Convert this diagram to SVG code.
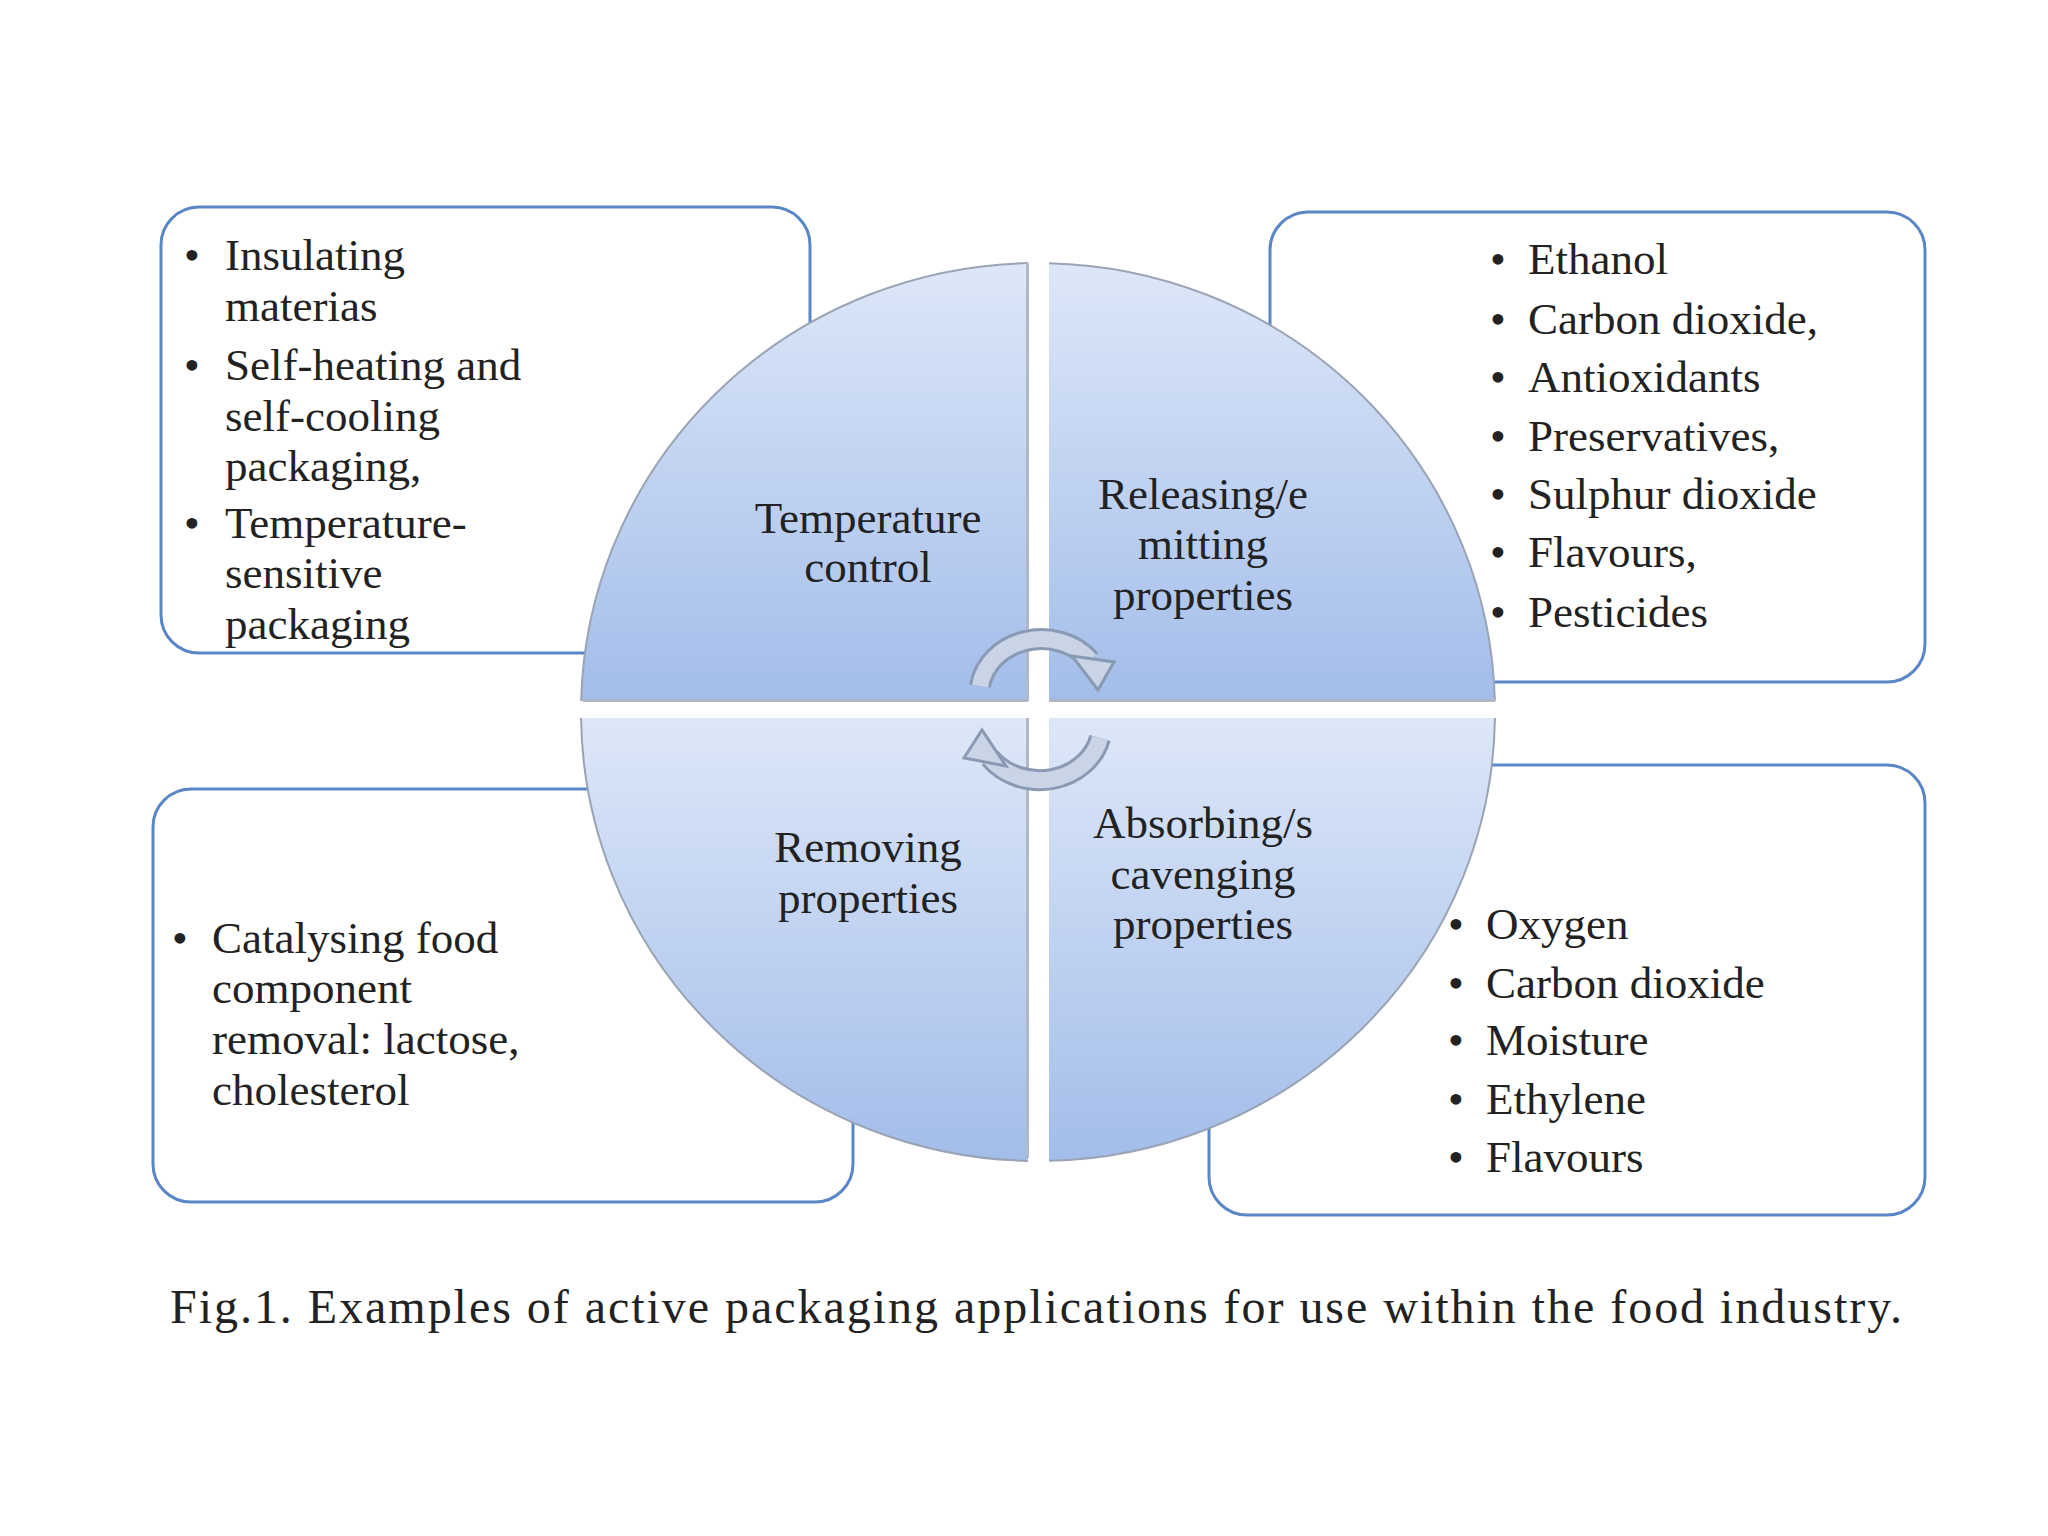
<svg xmlns="http://www.w3.org/2000/svg" width="2048" height="1536" viewBox="0 0 2048 1536">
<style>
.box{fill:#fff;stroke:#5b86c5;stroke-width:3}
.t{font-family:"Liberation Serif",serif;font-size:45px;fill:#222}
.c{text-anchor:middle}
.q{stroke:#9aa4b4;stroke-width:2}
.arc{fill:none;stroke:#c9d4e6;stroke-width:16}
.arco{fill:none;stroke:#8a9ab4;stroke-width:22}
</style>
<defs>
<linearGradient id="gt" gradientUnits="userSpaceOnUse" x1="0" y1="263" x2="0" y2="701"><stop offset="0" stop-color="#dde7f8"/><stop offset="1" stop-color="#a3bdea"/></linearGradient>
<linearGradient id="gb" gradientUnits="userSpaceOnUse" x1="0" y1="718" x2="0" y2="1160"><stop offset="0" stop-color="#dde7f8"/><stop offset="1" stop-color="#a3bdea"/></linearGradient>
<clipPath id="c1"><rect x="0" y="0" width="1028" height="701"/></clipPath>
<clipPath id="c2"><rect x="1049" y="0" width="1000" height="701"/></clipPath>
<clipPath id="c3"><rect x="0" y="718" width="1028" height="800"/></clipPath>
<clipPath id="c4"><rect x="1049" y="718" width="1000" height="800"/></clipPath>
</defs>
<rect width="2048" height="1536" fill="#fff"/>
<g id="box-tl"><rect class="box" x="161" y="207" width="649" height="446" rx="38"/>
<text class="t" x="184" y="270">•</text>
<text class="t" x="225" y="270">Insulating</text><text class="t" x="225" y="321">materias</text>
<text class="t" x="184" y="380">•</text>
<text class="t" x="225" y="380">Self-heating and</text><text class="t" x="225" y="431">self-cooling</text><text class="t" x="225" y="481">packaging,</text>
<text class="t" x="184" y="538">•</text>
<text class="t" x="225" y="538">Temperature-</text><text class="t" x="225" y="588">sensitive</text><text class="t" x="225" y="639">packaging</text></g>
<g id="box-tr"><rect class="box" x="1270" y="212" width="655" height="470" rx="38"/>
<g class="t"><text x="1490" y="274">•</text><text x="1490" y="334">•</text><text x="1490" y="392">•</text><text x="1490" y="451">•</text><text x="1490" y="509">•</text><text x="1490" y="567">•</text><text x="1490" y="627">•</text></g>
<text class="t" x="1528" y="274">Ethanol</text><text class="t" x="1528" y="334">Carbon dioxide,</text><text class="t" x="1528" y="392">Antioxidants</text><text class="t" x="1528" y="451">Preservatives,</text><text class="t" x="1528" y="509">Sulphur dioxide</text><text class="t" x="1528" y="567">Flavours,</text><text class="t" x="1528" y="627">Pesticides</text></g>
<g id="box-bl"><rect class="box" x="153" y="789" width="700" height="413" rx="38"/>
<text class="t" x="172" y="953">•</text>
<text class="t" x="212" y="953">Catalysing food</text><text class="t" x="212" y="1003">component</text><text class="t" x="212" y="1054">removal: lactose,</text><text class="t" x="212" y="1105">cholesterol</text></g>
<g id="box-br"><rect class="box" x="1209" y="765" width="716" height="450" rx="38"/>
<g class="t"><text x="1448" y="939">•</text><text x="1448" y="998">•</text><text x="1448" y="1055">•</text><text x="1448" y="1114">•</text><text x="1448" y="1172">•</text></g>
<text class="t" x="1486" y="939">Oxygen</text><text class="t" x="1486" y="998">Carbon dioxide</text><text class="t" x="1486" y="1055">Moisture</text><text class="t" x="1486" y="1114">Ethylene</text><text class="t" x="1486" y="1172">Flavours</text></g>
<g id="q-tl"><g clip-path="url(#c1)"><ellipse class="q" cx="1038" cy="712" rx="457" ry="449" fill="url(#gt)"/></g><rect x="583" y="699" width="445" height="3" fill="#b0b8c6"/><rect x="1026" y="263" width="3" height="438" fill="#b0b8c6"/>
<text class="t c" x="868" y="533">Temperature</text><text class="t c" x="868" y="582">control</text></g>
<g id="q-tr"><g clip-path="url(#c2)"><ellipse class="q" cx="1038" cy="712" rx="457" ry="449" fill="url(#gt)"/></g><rect x="1049" y="699" width="446" height="3" fill="#b0b8c6"/>
<text class="t c" x="1203" y="509">Releasing/e</text><text class="t c" x="1203" y="559">mitting</text><text class="t c" x="1203" y="610">properties</text></g>
<g id="q-bl"><g clip-path="url(#c3)"><ellipse class="q" cx="1038" cy="712" rx="457" ry="449" fill="url(#gb)"/></g><rect x="1026" y="718" width="3" height="440" fill="#b0b8c6"/>
<text class="t c" x="868" y="862">Removing</text><text class="t c" x="868" y="913">properties</text></g>
<g id="q-br"><g clip-path="url(#c4)"><ellipse class="q" cx="1038" cy="712" rx="457" ry="449" fill="url(#gb)"/></g>
<text class="t c" x="1203" y="838">Absorbing/s</text><text class="t c" x="1203" y="889">cavenging</text><text class="t c" x="1203" y="939">properties</text></g>
<g id="connectors">
<path class="arco" d="M980 686 A62 55 0 0 1 1090 660"/>
<path class="arc" d="M980 686 A62 55 0 0 1 1090 660"/>
<polygon points="1072,656 1114,662 1098,690" fill="#c9d4e6" stroke="#8a9ab4" stroke-width="3"/>
<path class="arco" d="M1100 738 A62 55 0 0 1 990 758"/>
<path class="arc" d="M1100 738 A62 55 0 0 1 990 758"/>
<polygon points="1006,766 964,758 982,730" fill="#c9d4e6" stroke="#8a9ab4" stroke-width="3"/>
</g>
<text id="caption" x="170" y="1323" font-family="Liberation Serif, serif" font-size="48" fill="#222" textLength="1732">Fig.1. Examples of active packaging applications for use within the food industry.</text>
</svg>
